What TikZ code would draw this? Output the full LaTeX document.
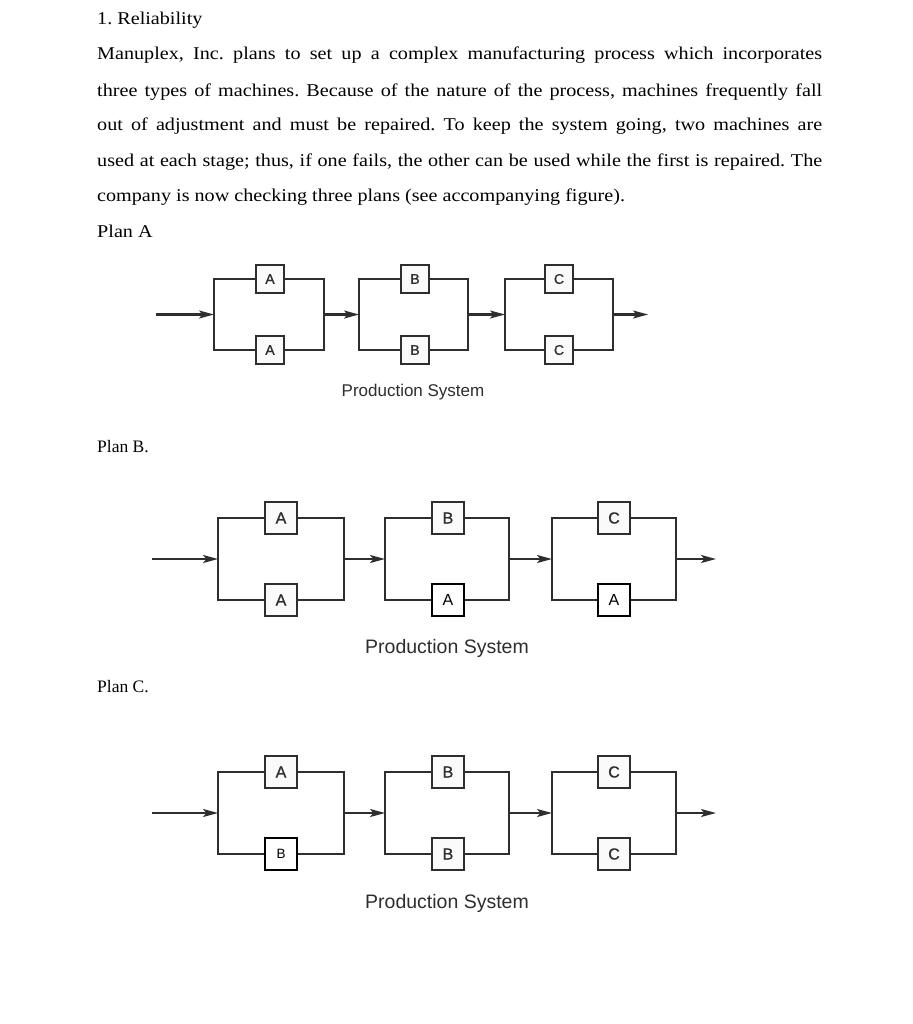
\documentclass[tikz,border=0pt]{standalone}
\usepackage{fontspec}
\setmainfont{Liberation Serif}
\newfontfamily\garfont[FakeStretch=1.12]{Liberation Serif}
\newfontfamily\diafont{Liberation Sans}
\newfontfamily\diafontb[FakeBold=1]{Liberation Sans}
\usetikzlibrary{arrows.meta}
\definecolor{ln}{HTML}{2E2E2E}
\tikzset{
  wire/.style={draw=ln, line width=2.1pt},
  flow/.style={wire, -{Stealth[length=15pt,width=8pt,inset=3.5pt]}},
  mbox/.style={draw=ln, line width=1.7pt, fill=gray!4, text=ln, minimum width=#1, minimum height=#1, inner sep=0pt},
  boxa/.style={mbox=28pt, font=\diafontb\fontsize{14}{14}\selectfont},
  boxb/.style={mbox=32pt, font=\diafontb\fontsize{16}{16}\selectfont},
  newbox/.style={draw=black, line width=1.5pt, fill=white, text=black, minimum width=32pt, minimum height=32pt, inner sep=0pt, font=\diafont\fontsize{16}{16}\selectfont},
  newboxs/.style={newbox, font=\diafont\fontsize{13.5}{14}\selectfont},
  body/.style={anchor=base west, inner sep=0pt, font=\garfont\fontsize{18}{20}\selectfont},
  planlbl/.style={anchor=base west, inner sep=0pt, font=\fontsize{17.5}{20}\selectfont},
  syslblA/.style={anchor=base, inner sep=0pt, text=ln, font=\diafont\fontsize{17}{18}\selectfont},
  syslblB/.style={anchor=base, inner sep=0pt, text=ln, font=\diafont\fontsize{19.5}{20}\selectfont},
}
\newcommand{\stg}[8]{%
  \coordinate (#1tl) at (#2,#5);
  \coordinate (#1bl) at (#2,#6);
  \coordinate (#1tr) at (#4,#5);
  \coordinate (#1br) at (#4,#6);
  \coordinate (#1ml) at (#2,{(#5+#6)/2});
  \coordinate (#1mr) at (#4,{(#5+#6)/2});
  \draw[wire] (#3,#5) -- (#1tl) -- (#1bl) -- (#3,#6);
  \draw[wire] (#3,#5) -- (#1tr) -- (#1br) -- (#3,#6);
  \node (#1t) at (#3,#5) #7;
  \node (#1b) at (#3,#6) #8;
}
\begin{document}
\frenchspacing
\begin{tikzpicture}[x=1pt,y=-1pt]
\fill[white] (0,0) rectangle (912,1024);
\path[use as bounding box] (0,0) rectangle (912,1024);

% text
\node[body] (t0) at (97,25) {1. Reliability};
\node[body] (t1) at (97,60) {\makebox[725pt][s]{Manuplex, Inc. plans to set up a complex manufacturing process which incorporates}};
\node[body] (t2) at (97,96.5) {\makebox[725pt][s]{three types of machines. Because of the nature of the process, machines frequently fall}};
\node[body] (t3) at (97,131) {\makebox[725pt][s]{out of adjustment and must be repaired. To keep the system going, two machines are}};
\node[body] (t4) at (97,167) {\makebox[725pt][s]{used at each stage; thus, if one fails, the other can be used while the first is repaired. The}};
\node[body] (t5) at (97,202) {company is now checking three plans (see accompanying figure).};
\node[body] (t6) at (97,237) {Plan A};
\node[planlbl] (pb) at (97,452) {Plan B.};
\node[planlbl] (pc) at (97,692) {Plan C.};

% Plan A
\coordinate (ain) at (156,314.5);
\coordinate (aout) at (648,314.5);
\stg{a1}{214}{270}{324}{279}{350}{[boxa]{A}}{[boxa]{A}}
\stg{a2}{359}{415}{468}{279}{350}{[boxa]{B}}{[boxa]{B}}
\stg{a3}{505}{559}{613}{279}{350}{[boxa]{C}}{[boxa]{C}}
\draw[flow] (ain) -- (a1ml);
\draw[flow] (a1mr) -- (a2ml);
\draw[flow] (a2mr) -- (a3ml);
\draw[flow] (a3mr) -- (aout);
\node[syslblA] (asys) at (413,396) {Production System};

% Plan B
\coordinate (bin) at (152,559);
\coordinate (bout) at (716,559);
\stg{b1}{218}{281}{344}{518}{600}{[boxb]{A}}{[boxb]{A}}
\stg{b2}{385}{448}{509}{518}{600}{[boxb]{B}}{[newbox]{A}}
\stg{b3}{552}{614}{676}{518}{600}{[boxb]{C}}{[newbox]{A}}
\draw[flow] (bin) -- (b1ml);
\draw[flow] (b1mr) -- (b2ml);
\draw[flow] (b2mr) -- (b3ml);
\draw[flow] (b3mr) -- (bout);
\node[syslblB] (bsys) at (447,653) {Production System};

% Plan C
\coordinate (cin) at (152,813);
\coordinate (cout) at (716,813);
\stg{c1}{218}{281}{344}{772}{854}{[boxb]{A}}{[newboxs]{B}}
\stg{c2}{385}{448}{509}{772}{854}{[boxb]{B}}{[boxb]{B}}
\stg{c3}{552}{614}{676}{772}{854}{[boxb]{C}}{[boxb]{C}}
\draw[flow] (cin) -- (c1ml);
\draw[flow] (c1mr) -- (c2ml);
\draw[flow] (c2mr) -- (c3ml);
\draw[flow] (c3mr) -- (cout);
\node[syslblB] (csys) at (447,908) {Production System};
\end{tikzpicture}
\end{document}
